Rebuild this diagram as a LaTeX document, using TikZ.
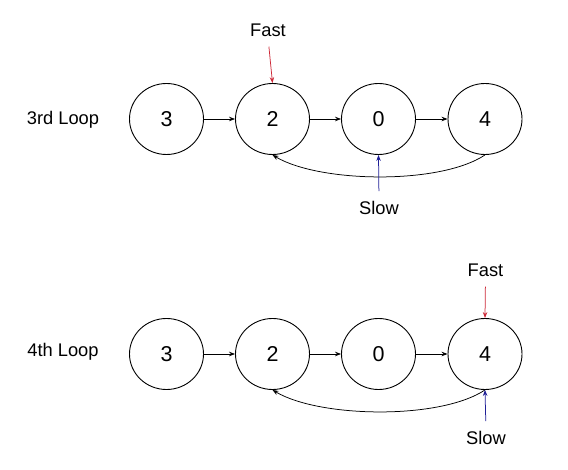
\documentclass[tikz,border=0pt]{standalone}
\usepackage{fontspec}
\setmainfont{Liberation Sans}
\usepackage{tikz}
\usetikzlibrary{shapes.geometric, arrows.meta, positioning, calc}
\usepackage{xcolor}
\definecolor{fastred}{RGB}{205,40,55}
\definecolor{slowblue}{RGB}{30,30,150}

\begin{document}
\begin{tikzpicture}[
    x=1pt, y=-1pt,
    elem/.style={draw=black, line width=0.9pt, ellipse, minimum width=74pt,
                 minimum height=71pt, inner sep=0pt,
                 font=\fontsize{21.5}{25}\selectfont},
    txt/.style={font=\fontsize{18.3}{21}\selectfont, inner sep=1pt},
    arr/.style={-{Stealth[length=6pt, width=4.5pt]}, line width=0.75pt, black},
    fastarr/.style={arr, fastred, shorten <=9pt},
    slowarr/.style={arr, slowblue, shorten <=9pt}
]
\useasboundingbox (0,0) rectangle (568,470);

% Ligne 1 : 3rd Loop
\node[txt] (loop3) at (63,120) {3rd Loop};
\node[elem] (a3) at (166.5,119) {3};
\node[elem] (a2) at (272.5,119) {2};
\node[elem] (a0) at (378.5,119) {0};
\node[elem] (a4) at (485,119) {4};

\node[txt] (fast3) at (268,30) {Fast};
\node[txt] (slow3) at (379,208) {Slow};

% Ligne 2 : 4th Loop
\node[txt] (loop4) at (63,352) {4th Loop};
\node[elem] (b3) at (166.5,354) {3};
\node[elem] (b2) at (272.5,354) {2};
\node[elem] (b0) at (378.5,354) {0};
\node[elem] (b4) at (485,354) {4};

\node[txt] (fast4) at (485.5,270) {Fast};
\node[txt] (slow4) at (486,438) {Slow};

% Flèches entre les éléments
\foreach \u/\v in {a3/a2, a2/a0, a0/a4, b3/b2, b2/b0, b0/b4}
    \draw[arr] (\u.east) -- (\v.west);

% Retour 4 -> 2
\foreach \r in {a, b}
    \draw[arr] (\r4.south) .. controls +(-45,30) and +(47,28) .. (\r2.south);

% Pointeurs
\draw[fastarr] (fast3.south) -- (a2.north);
\draw[slowarr] (slow3.north) -- (a0.south);
\draw[fastarr] (fast4.south) -- (b4.north);
\draw[slowarr] (slow4.north) -- (b4.south);

\end{tikzpicture}
\end{document}
